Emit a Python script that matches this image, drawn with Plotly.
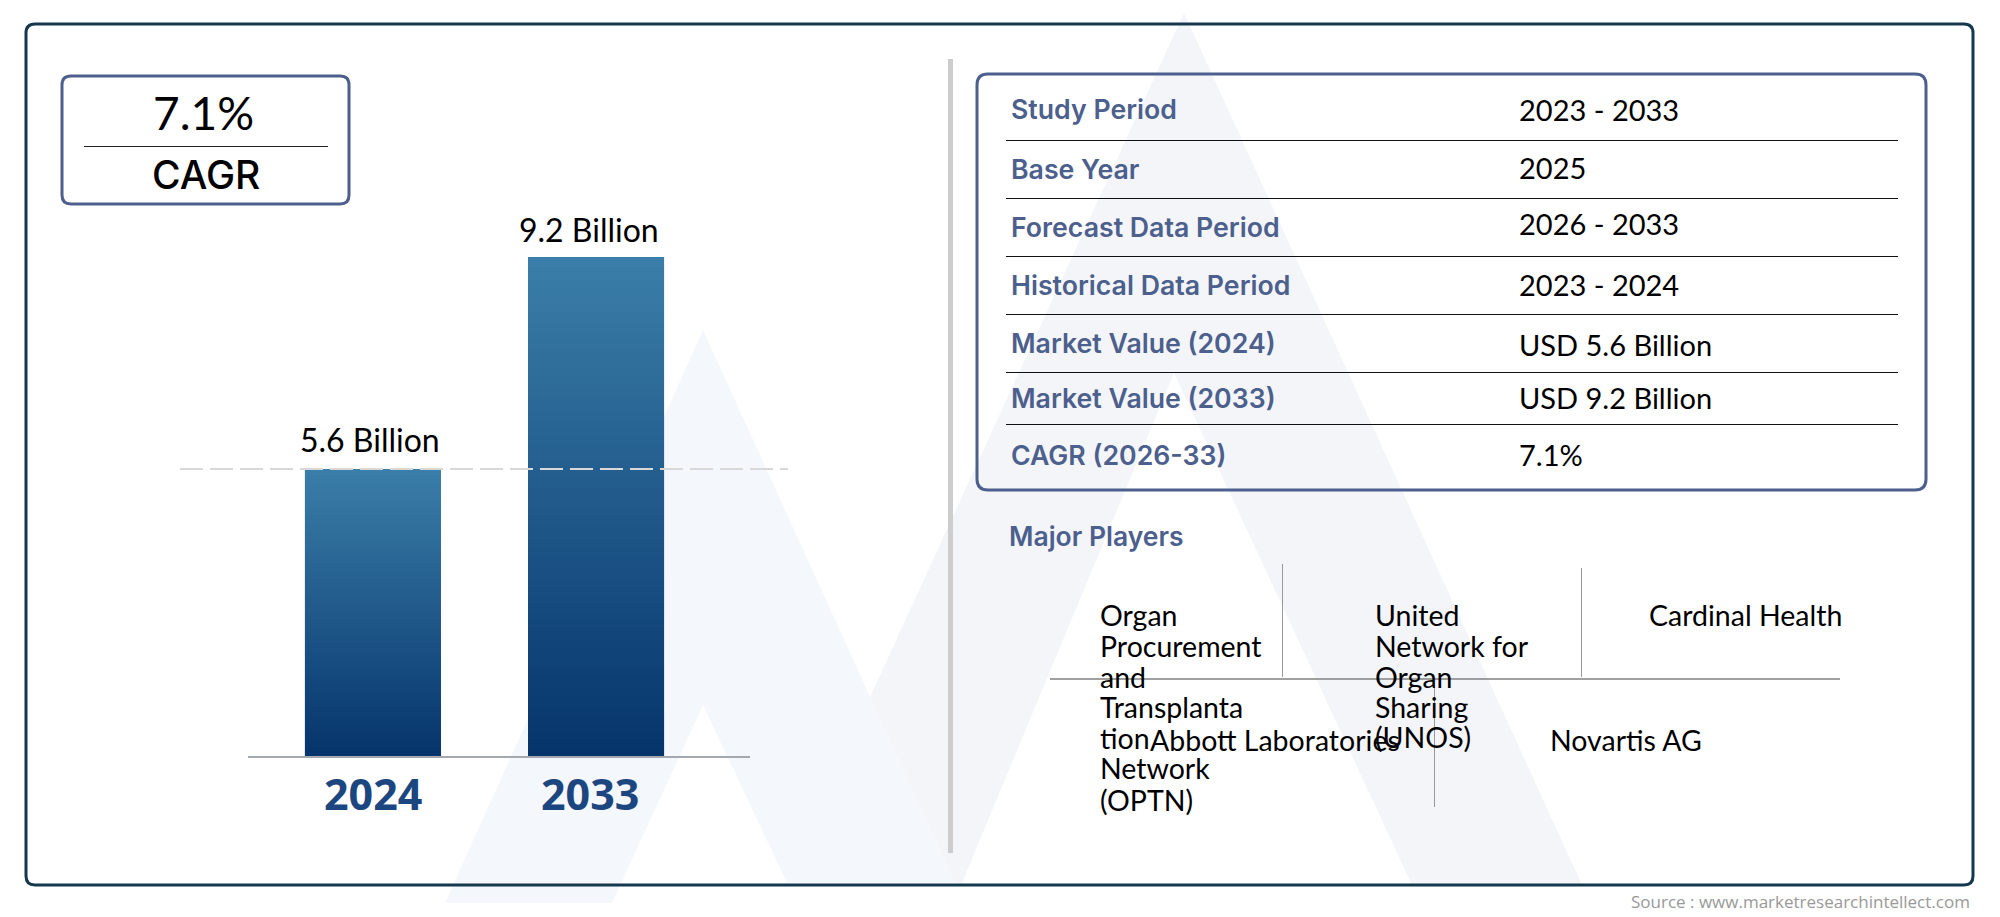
import plotly.graph_objects as go

W = 2000
H = 917

years = ['2024', '2033']
market_values = [5.6, 9.2]
bar_labels = ['5.6 Billion', '9.2 Billion']

study_labels = ['Study Period', 'Base Year', 'Forecast Data Period', 'Historical Data Period',
                'Market Value (2024)', 'Market Value (2033)', 'CAGR (2026-33)']
study_values = ['2023 - 2033', '2025', '2026 - 2033', '2023 - 2024',
                'USD 5.6 Billion', 'USD 9.2 Billion', '7.1%']

optn_lines = ['Organ', 'Procurement', 'and', 'Transplanta', 'tion', 'Network', '(OPTN)']
unos_lines = ['United', 'Network for', 'Organ', 'Sharing', '(UNOS)']
other_players = ['Cardinal Health', 'Abbott Laboratories', 'Novartis AG']

NAVY = '#15384f'
SLATE = '#4c5f8d'
BODY_FONT = 'Lato'
HEAD_FONT = 'Inter'


def px(x):
    return x / W


def py(y):
    return 1 - y / H


def box_path(x0, y0, x1, y1, r):
    # rounded rectangle, given in page pixels
    pts = [('M', x0 + r, y0), ('L', x1 - r, y0), ('Q', x1, y0, x1, y0 + r), ('L', x1, y1 - r),
           ('Q', x1, y1, x1 - r, y1), ('L', x0 + r, y1), ('Q', x0, y1, x0, y1 - r),
           ('L', x0, y0 + r), ('Q', x0, y0, x0 + r, y0)]
    out = ''
    for p in pts:
        nums = p[1:]
        pairs = [f'{px(nums[i]):.5f},{py(nums[i + 1]):.5f}' for i in range(0, len(nums), 2)]
        out += p[0] + ' '.join(pairs) + ' '
    return out + 'Z'


def poly_path(points):
    return 'M' + ' L'.join(f'{px(x):.5f},{py(y):.5f}' for x, y in points) + ' Z'


def hline(x0, x1, y, color, width):
    return dict(type='line', xref='paper', yref='paper', x0=px(x0), x1=px(x1), y0=py(y), y1=py(y),
                line=dict(color=color, width=width))


def vline(x, y0, y1, color, width):
    return dict(type='line', xref='paper', yref='paper', x0=px(x), x1=px(x), y0=py(y0), y1=py(y1),
                line=dict(color=color, width=width))


def label(text, x, y, size, color='#000000', family=BODY_FONT, weight=400, anchor='left'):
    return dict(text=text, xref='paper', yref='paper', x=px(x), y=py(y), xanchor=anchor, yanchor='middle',
                showarrow=False, font=dict(family=family, size=size, color=color, weight=weight))


fig = go.Figure(go.Bar(x=years, y=market_values, width=0.61, marker=dict(color='#1f5a8c', line=dict(width=0)),
                       hoverinfo='skip'))

shapes = []
# watermark logo behind everything, two peaks
shapes.append(dict(type='path', xref='paper', yref='paper', layer='below', line=dict(width=0),
                   fillcolor='#f4f7fb',
                   path=poly_path([(445, 903), (703, 330), (955, 883), (787, 883), (703, 705), (612, 903)])))
shapes.append(dict(type='path', xref='paper', yref='paper', layer='below', line=dict(width=0),
                   fillcolor='#f3f5f9',
                   path=poly_path([(870, 697), (1184, 13), (1582, 885), (1412, 885), (1174, 373), (962, 883),
                                   (955, 883)])))
shapes.append(dict(type='path', xref='paper', yref='paper', line=dict(color=NAVY, width=3), layer='below',
                   path=box_path(26, 24, 1973, 885, 9)))
shapes.append(dict(type='path', xref='paper', yref='paper', line=dict(color=SLATE, width=3), layer='below',
                   path=box_path(62, 76, 349, 204, 9)))
shapes.append(dict(type='path', xref='paper', yref='paper', line=dict(color=SLATE, width=3), layer='below',
                   path=box_path(977, 74, 1926, 490, 11)))
shapes.append(hline(84, 328, 146.5, '#222222', 1))
shapes.append(vline(950.5, 59, 853, '#cdcdcd', 5))
for row_y in [140.5, 198.5, 256.5, 314.5, 372.5, 424.5]:
    shapes.append(hline(1006, 1898, row_y, '#111111', 1))
shapes.append(hline(1050, 1840, 679, '#808080', 1.5))
shapes.append(vline(1282.5, 564, 677, '#999999', 1))
shapes.append(vline(1581.5, 568, 677, '#999999', 1))
shapes.append(vline(1434.5, 685, 807, '#999999', 1))
# dashed level of the 2024 value
shapes.append(dict(type='line', xref='paper', yref='y', x0=px(180), x1=px(788), y0=market_values[0],
                   y1=market_values[0], line=dict(color='#d8d8d8', width=2, dash='23px,7px')))

annotations = [
    label('7.1%', 203, 113, 46, anchor='center'),
    label('CAGR', 206, 174, 39, family=HEAD_FONT, weight=500, anchor='center'),
    label('Major Players', 1007, 536, 26.5, SLATE, HEAD_FONT, 600),
    label('Source : www.marketresearchintellect.com', 1972, 901, 17, '#999999', 'Open Sans', anchor='right'),
]

for name, value, shift, year_shift, name_y in zip(bar_labels, years, [-3, -7], [0, -6], [439, 229]):
    annotations.append(label(name, 373 + 223 * years.index(value) + shift, name_y, 32, anchor='center'))
    annotations.append(label(value, 373 + 223 * years.index(value) + year_shift, 793, 43, '#1c4680',
                             'Open Sans', 700, 'center'))

for text, y in zip(study_labels, [109, 169, 227, 285, 343, 398, 455]):
    annotations.append(label(text, 1009, y, 26.7, SLATE, HEAD_FONT, 600))
for text, y in zip(study_values, [109, 168, 224, 284, 344, 397, 454]):
    annotations.append(label(text, 1517, y, 29))

for text, y in zip(optn_lines, [615, 646, 677, 707, 738, 768, 800]):
    annotations.append(label(text, 1098, y, 28.5))
for text, y in zip(unos_lines, [615, 646, 677, 707, 737]):
    annotations.append(label(text, 1373, y, 28.5))
for text, x, y in zip(other_players, [1647, 1148, 1548], [615, 740, 740]):
    annotations.append(label(text, x, y, 28.5))

fig.update_layout(
    width=W, height=H, margin=dict(l=0, r=0, t=0, b=0), paper_bgcolor='white', plot_bgcolor='rgba(0,0,0,0)',
    showlegend=False, bargap=0.39, shapes=shapes, annotations=annotations,
    xaxis=dict(domain=[px(248), px(750)], range=[-0.56, 1.69], showgrid=False, zeroline=False, showticklabels=False,
               ticks='', showline=True, linecolor='#a4a9b0', linewidth=1.5, anchor='y'),
    # axis does not start at zero: the picture's bars are cut off above the real baseline
    yaxis=dict(domain=[py(756), py(200)], range=[0.727, 10.168], visible=False, anchor='x'),
)

# plotly bars have no gradient fill, so add one per bar once drawn
post_js = """
document.body.style.margin = '0';
document.body.style.overflow = 'hidden';
var gd = document.getElementById('{plot_id}');
var defs = gd.querySelector('defs');
var NS = 'http://www.w3.org/2000/svg';
gd.querySelectorAll('.bars .point path').forEach(function (bar, i) {
    var g = document.createElementNS(NS, 'linearGradient');
    g.setAttribute('id', 'barfade' + i);
    g.setAttribute('gradientUnits', 'userSpaceOnUse');
    g.setAttribute('x1', 0); g.setAttribute('x2', 0);
    g.setAttribute('y1', bar.getBBox().y);
    g.setAttribute('y2', gd._fullLayout.yaxis._length);
    [['0', '#3b7ea9'], ['1', '#05346b']].forEach(function (s) {
        var stop = document.createElementNS(NS, 'stop');
        stop.setAttribute('offset', s[0]);
        stop.setAttribute('stop-color', s[1]);
        g.appendChild(stop);
    });
    defs.appendChild(g);
    bar.style.fill = 'url(#barfade' + i + ')';
});
"""

fig.write_html("out.html", post_script=post_js, config=dict(displayModeBar=False))
